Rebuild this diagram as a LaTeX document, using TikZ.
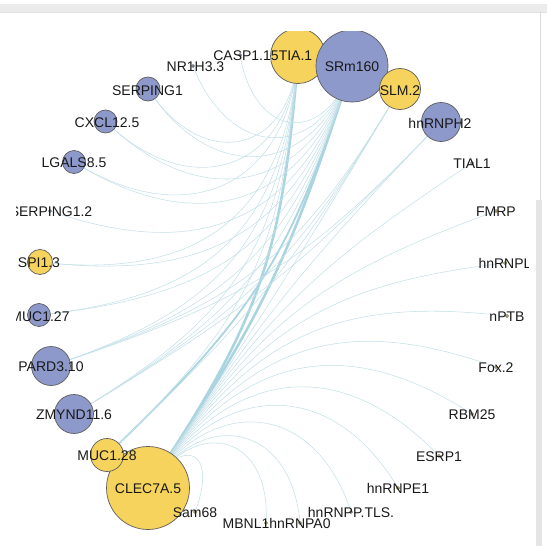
\documentclass[tikz,border=0pt]{standalone}
\usepackage{fontspec}
\setmainfont{Liberation Sans}
\usetikzlibrary{calc}
\pgfdeclarelayer{edgelayer}
\pgfsetlayers{edgelayer,main}
\definecolor{gy}{HTML}{F6D35C}
\definecolor{bl}{HTML}{8E99CB}
\definecolor{edgec}{HTML}{C4E0E8}
\definecolor{edgek}{HTML}{AAD5E0}
\definecolor{ring}{HTML}{5E5E5E}
\newcommand\edg[3][ed]{%
  \draw[#1] let \p1=(#2.center), \p2=(#3.center),
    \n1={scalar(min(0.95,0.2+veclen(\x2-\x1,\y2-\y1)/700))} in
    (#2.center) .. controls ($(#2.center)!\n1!(ctr)$) and ($(#3.center)!\n1!(ctr)$) .. (#3.center);}
\begin{document}
\begin{tikzpicture}[x=1pt,y=-1pt,
  yel/.style={circle,fill=gy,draw=ring,line width=0.7pt,inner sep=0pt,minimum size=#1},
  blu/.style={circle,fill=bl,draw=ring,line width=0.7pt,inner sep=0pt,minimum size=#1},
  dot/.style={circle,fill=gy,draw=ring,line width=0.5pt,inner sep=0pt,minimum size=3pt},
  bdot/.style={circle,fill=bl,draw=ring,line width=0.5pt,inner sep=0pt,minimum size=3pt},
  lbl/.style={inner sep=0pt,text height=10pt,text depth=0pt,font=\fontsize{14}{16}\selectfont,text=black!90},
  ed/.style={draw=edgec,line width=0.55pt},
  edm/.style={draw=edgek,line width=1.8pt},
  edk/.style={draw=edgek,line width=2.6pt}]
\useasboundingbox (0,0) rectangle (547,546);
% window frame
\fill[black!8] (0,4) rectangle (547,12);
\draw[black!12,line width=1pt] (0,12.5) -- (547,12.5);
\draw[black!15,line width=1pt] (540,12) -- (540,546);
\fill[black!10] (536,200) rectangle (542,546);
\coordinate (ctr) at (280,290);
\begin{scope}
\clip (16,31) rectangle (528.5,546);
% nodes (circles)
\node[yel=55pt] (tia) at (298,56) {};
\node[blu=72pt] (srm) at (352,66) {};
\node[yel=41pt] (slm) at (400,89) {};
\node[blu=39pt] (h2) at (441,122) {};
\node[dot] (tial) at (472,163) {};
\node[dot] (fmrp) at (496,211) {};
\node[dot] (hnl) at (505,263) {};
\node[dot] (nptb) at (507,316) {};
\node[dot] (fox) at (496,367) {};
\node[dot] (rbm) at (472,414) {};
\node[dot] (esrp) at (439,456) {};
\node[dot] (e1) at (398,488) {};
\node[dot] (tls) at (351,512) {};
\node[dot] (a0) at (300,523) {};
\node[dot] (mbnl) at (266,523) {};
\node[dot] (sam) at (195,512) {};
\node[yel=83pt] (clec) at (148,488) {};
\node[yel=33pt] (m28) at (107,455) {};
\node[blu=39pt] (zm) at (74,414) {};
\node[blu=39pt] (pard) at (51,366) {};
\node[blu=23pt] (m27) at (39,315) {};
\node[yel=25pt] (spi) at (40,262) {};
\node[bdot] (sp12) at (50,211) {};
\node[blu=23pt] (lg) at (74,162) {};
\node[blu=23pt] (cx) at (105.5,121.5) {};
\node[blu=24pt] (sp1) at (148,89) {};
\node[bdot] (nr) at (193,66) {};
\node[bdot] (casp) at (240,55) {};
% labels
\node[lbl] (casp-l) at (246,55) {CASP1.15};
\node[lbl] (tia-l) at (295.5,55) {TIA.1};
\node[lbl] (srm-l) at (352,66) {SRm160};
\node[lbl] (slm-l) at (400,90) {SLM.2};
\node[lbl] (h2-l) at (440,123) {hnRNPH2};
\node[lbl] (tial-l) at (472,163) {TIAL1};
\node[lbl] (fmrp-l) at (496,211) {FMRP};
\node[lbl] (hnl-l) at (505,263) {hnRNPL};
\node[lbl] (nptb-l) at (507,316) {nPTB};
\node[lbl] (fox-l) at (496,367) {Fox.2};
\node[lbl] (rbm-l) at (472,414) {RBM25};
\node[lbl] (esrp-l) at (439,456) {ESRP1};
\node[lbl] (e1-l) at (398,488) {hnRNPE1};
\node[lbl] (tls-l) at (351,512) {hnRNPP.TLS.};
\node[lbl] (a0-l) at (300,523) {hnRNPA0};
\node[lbl] (mbnl-l) at (246,523) {MBNL1};
\node[lbl] (sam-l) at (195,512) {Sam68};
\node[lbl] (clec-l) at (148,488) {CLEC7A.5};
\node[lbl] (m28-l) at (107,455) {MUC1.28};
\node[lbl] (zm-l) at (74,414) {ZMYND11.6};
\node[lbl] (pard-l) at (51,366) {PARD3.10};
\node[lbl] (m27-l) at (40,316) {MUC1.27};
\node[lbl] (spi-l) at (39,262) {SPI1.3};
\node[lbl] (sp12-l) at (51,211) {SERPING1.2};
\node[lbl] (lg-l) at (74,162) {LGALS8.5};
\node[lbl] (cx-l) at (107,122) {CXCL12.5};
\node[lbl] (sp1-l) at (147.5,90) {SERPING1};
\node[lbl] (nr-l) at (195.5,66) {NR1H3.3};
\end{scope}
\begin{pgfonlayer}{edgelayer}
\edg[edk]{clec}{tia}
\edg[edk]{clec}{srm}
\edg[edm]{m28}{srm}
\foreach \t in {slm,h2,tial,fmrp,hnl,nptb,fox,rbm,esrp,e1,tls,a0,mbnl,sam}{\edg{clec}{\t}}
\foreach \g in {m28,zm,pard,m27,spi,lg,cx,sp1}{\edg{\g}{tia}}
\foreach \g in {zm,pard,m27,spi,sp12,lg,cx,sp1,nr,casp}{\edg{\g}{srm}}
\foreach \g in {m28,zm,pard}{\edg{\g}{slm}}
\foreach \g in {zm,pard}{\edg{\g}{h2}}
\end{pgfonlayer}
\end{tikzpicture}
\end{document}
